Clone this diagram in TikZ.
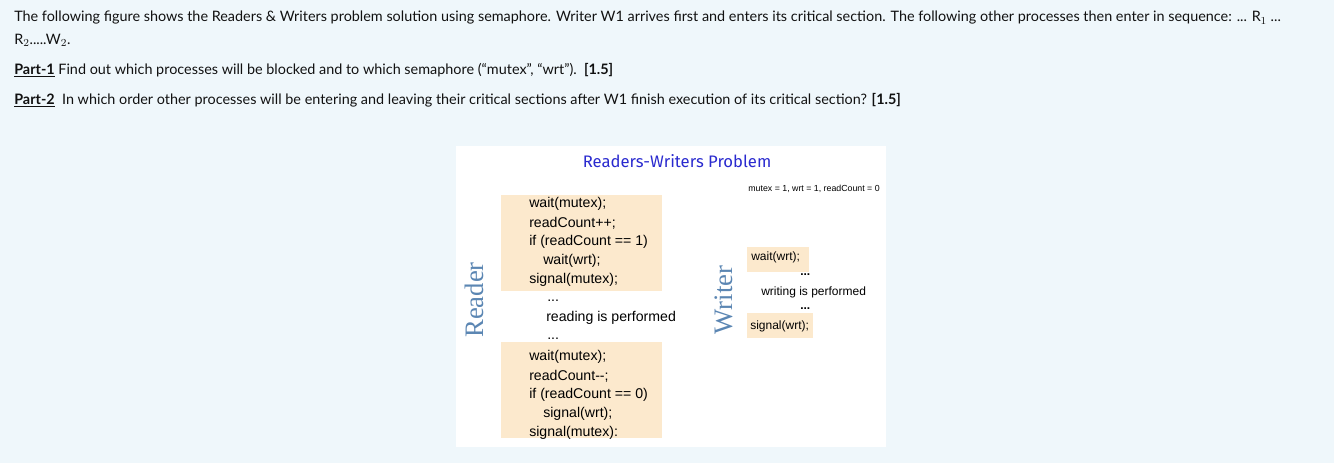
\documentclass[tikz,border=0pt]{standalone}
\usepackage{fontspec}
\setmainfont{Lato}
\newfontfamily\codef{Liberation Sans}
\newfontfamily\titf{Fira Sans}
\newfontfamily\serf{Liberation Serif}
\definecolor{bg}{HTML}{EFF7FB}
\definecolor{hl}{HTML}{FCE9CD}
\definecolor{titc}{HTML}{2A2ACF}
\definecolor{sidec}{HTML}{5B86B3}
\definecolor{txt}{HTML}{111111}
\begin{document}
\begin{tikzpicture}[x=0.75pt,y=-0.75pt,
  q/.style={anchor=west,inner sep=0,font=\fontsize{10.8pt}{12pt}\selectfont,text=txt},
  cd/.style={anchor=west,inner sep=0,font=\codef\fontsize{10.6pt}{12pt}\selectfont,text=black},
  wc/.style={anchor=west,inner sep=0,font=\codef\fontsize{9pt}{10pt}\selectfont,text=black},
  hlbox/.style={fill=hl,draw=none}]
\fill[bg] (0,0) rectangle (1334,463);
\useasboundingbox (0,0) rectangle (1334,463);
\node[q] (l1) at (14,18) {The following figure shows the Readers \& Writers problem solution using semaphore. Writer W1 arrives first and enters its critical section. The following other processes then enter in sequence: ... R$_1$ ...};
\node[q] (l2) at (14,40) {R$_2$.....W$_2$.};
\node[q] (p1) at (14,70) {\textbf{\underline{Part-1}} Find out which processes will be blocked and to which semaphore (“mutex”, “wrt”).\ \ \textbf{[1.5]}};
\node[q] (p2) at (14,100) {\textbf{\underline{Part-2}}\ \ In which order other processes will be entering and leaving their critical sections after W1 finish execution of its critical section? \textbf{[1.5]}};
\fill[white] (456,146) rectangle (886,447);
\node[anchor=center,font=\titf\fontsize{12.5pt}{14pt}\selectfont,text=titc] (tit) at (677,161) {Readers-Writers Problem};
\node[anchor=east,inner sep=0,font=\codef\fontsize{6.6pt}{7pt}\selectfont] (init) at (880,189) {mutex = 1, wrt = 1, readCount = 0};
\node[rotate=90,font=\serf\fontsize{20pt}{22pt}\selectfont,text=sidec] (rd) at (474,300) {Reader};
\node[rotate=90,font=\serf\fontsize{20pt}{22pt}\selectfont,text=sidec] (wr) at (724,300) {Writer};
\fill[hlbox] (501,195) rectangle (662,291);
\fill[hlbox] (501,342) rectangle (662,438);
\fill[hlbox] (747,247) rectangle (809,272);
\fill[hlbox] (747,313) rectangle (813,338);
\node[cd] (a1) at (529,204) {wait(mutex);};
\node[cd] (a2) at (529,223) {readCount++;};
\node[cd] (a3) at (529,242) {if (readCount == 1)};
\node[cd] (a4) at (543,261) {wait(wrt);};
\node[cd] (a5) at (529,280) {signal(mutex);};
\node[cd] (d1) at (547,301) {...};
\node[cd] (rp) at (546,318) {reading is performed};
\node[cd] (d2) at (547,339) {...};
\node[cd] (b1) at (529,357) {wait(mutex);};
\node[cd] (b2) at (529,376) {readCount--;};
\node[cd] (b3) at (529,395) {if (readCount == 0)};
\node[cd] (b4) at (543,414) {signal(wrt);};
\node[cd] (b5) at (529,433) {signal(mutex):};
\node[wc] (w1) at (751,257) {wait(wrt);};
\node[wc,font=\codef\bfseries\fontsize{9pt}{10pt}\selectfont] (w2) at (800,275) {...};
\node[wc] (w3) at (761,292) {writing is performed};
\node[wc,font=\codef\bfseries\fontsize{9pt}{10pt}\selectfont] (w4) at (800,309) {...};
\node[wc] (w5) at (750,326) {signal(wrt);};
\end{tikzpicture}
\end{document}
